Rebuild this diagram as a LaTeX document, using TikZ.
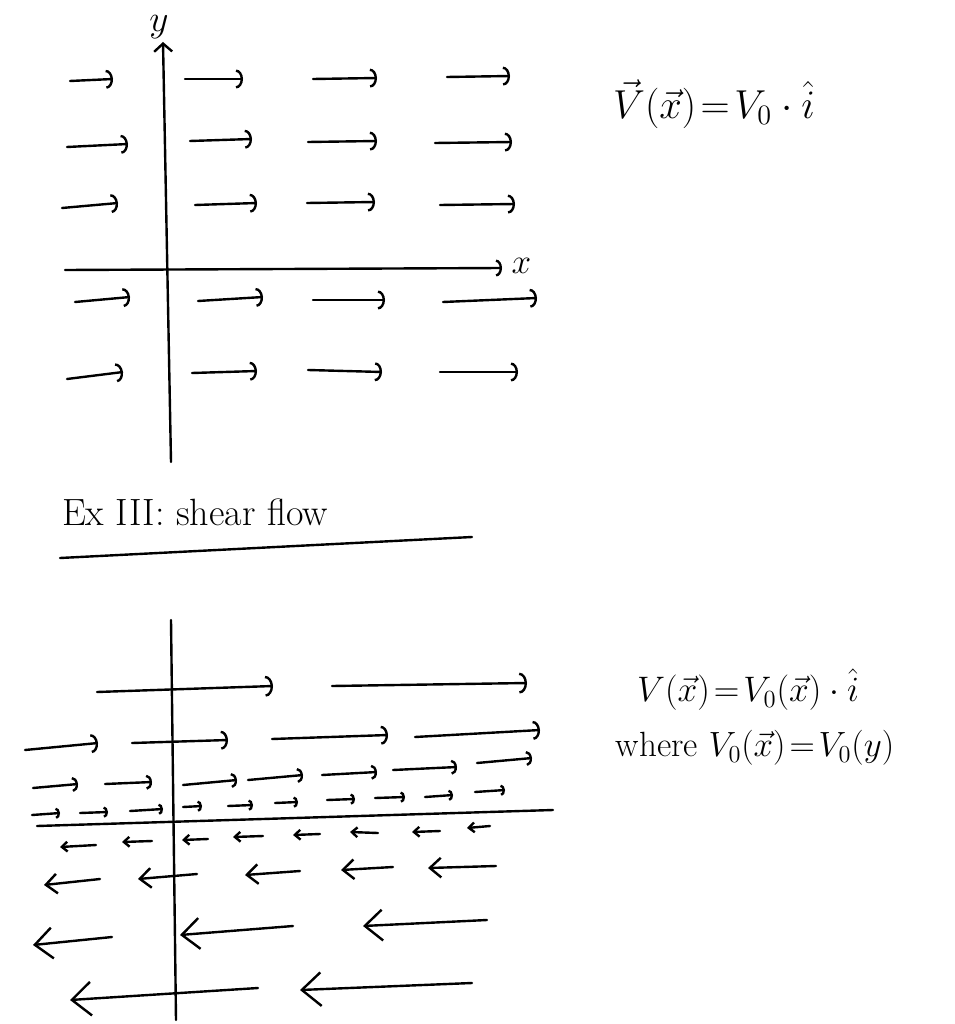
\documentclass[tikz,border=0pt]{standalone}
\usepackage{graphicx}
\usepackage{amsmath}
\usetikzlibrary{arrows.meta}

\begin{document}
\begin{tikzpicture}[x=1pt, y=-1pt, line cap=round, line join=round,
    ink/.style={black, line width=2.4pt},
    rightvec/.style={ink, -{Arc Barb[length=7pt, width=19pt, scale=#1]}},
    rightvec/.default=1,
    leftvec/.style={ink, -{Straight Barb[length=8pt, width=14pt, scale=#1]}},
    leftvec/.default=1]
\useasboundingbox (0,0) rectangle (954,1024);

% uniform flow
\draw[ink, -{Straight Barb[length=8pt, width=18pt]}] (171,462) -- (163,42);
\node (ylabel) at (159,27) {\scalebox{1.8}{\huge $y$}};
\draw[ink, -{Arc Barb[length=6pt, width=17pt]}] (65,270) -- (502,268);
\node[anchor=west] (xlabel) at (508,266) {\scalebox{1.7}{\huge $x$}};

\draw[rightvec] (70,81) -- (113,79);
\draw[rightvec] (185,79) -- (243,79);
\draw[rightvec] (313,79) -- (377,78);
\draw[rightvec] (447,77) -- (510,76);
\draw[rightvec] (67,147) -- (128,144);
\draw[rightvec] (190,141) -- (252,139);
\draw[rightvec] (308,142) -- (377,141);
\draw[rightvec] (435,143) -- (512,142);
\draw[rightvec] (62,208) -- (118,203);
\draw[rightvec] (195,205) -- (257,203);
\draw[rightvec] (307,203) -- (375,202);
\draw[rightvec] (440,205) -- (515,204);
\draw[rightvec] (75,302) -- (130,297);
\draw[rightvec] (198,301) -- (263,297);
\draw[rightvec] (313,300) -- (385,300);
\draw[rightvec] (443,302) -- (537,298);
\draw[rightvec] (67,379) -- (123,372);
\draw[rightvec] (192,373) -- (257,371);
\draw[rightvec] (308,370) -- (382,372);
\draw[rightvec] (440,372) -- (518,372);

\node (fieldeq) at (714,104)
    {\scalebox{1.95}{\huge $\vec{V}(\vec{x})\!=\!V_0\cdot\hat{i}$}};

% title
\node[font=\fontsize{38}{42}\selectfont] (title) at (195,512) {Ex III: shear flow};
\draw[ink] (60,558) -- (472,537);

% shear flow
\draw[ink] (171,620) -- (176,1020);
\draw[ink] (37,826) -- (553,810);

\draw[rightvec=1.1] (97,692) -- (273,686);
\draw[rightvec=1.1] (332,686) -- (527,683);
\draw[rightvec] (25,750) -- (98,743);
\draw[rightvec] (132,743) -- (228,740);
\draw[rightvec] (272,739) -- (388,735);
\draw[rightvec] (415,737) -- (540,730);
\draw[rightvec=0.8] (33,788) -- (78,784);
\draw[rightvec=0.8] (105,784) -- (152,782);
\draw[rightvec=0.8] (183,785) -- (237,780);
\draw[rightvec=0.8] (248,780) -- (303,775);
\draw[rightvec=0.8] (322,775) -- (377,772);
\draw[rightvec=0.8] (393,770) -- (457,767);
\draw[rightvec=0.8] (477,763) -- (532,758);
\draw[rightvec=0.6] (32,815) -- (60,813);
\draw[rightvec=0.6] (80,813) -- (108,812);
\draw[rightvec=0.6] (130,811) -- (163,809);
\draw[rightvec=0.6] (183,807) -- (202,806);
\draw[rightvec=0.6] (228,806) -- (253,805);
\draw[rightvec=0.6] (275,803) -- (298,802);
\draw[rightvec=0.6] (327,800) -- (355,799);
\draw[rightvec=0.6] (375,798) -- (405,797);
\draw[rightvec=0.6] (425,797) -- (453,795);
\draw[rightvec=0.6] (475,792) -- (505,790);

\draw[leftvec=0.7] (96,845) -- (60,847);
\draw[leftvec=0.7] (152,841) -- (122,842);
\draw[leftvec=0.7] (208,839) -- (182,840);
\draw[leftvec=0.7] (263,836) -- (233,837);
\draw[leftvec=0.7] (320,834) -- (293,835);
\draw[leftvec=0.7] (378,833) -- (350,832);
\draw[leftvec=0.7] (440,831) -- (412,832);
\draw[leftvec=0.7] (490,826) -- (467,828);
\draw[leftvec=1.4] (100,879) -- (44,885);
\draw[leftvec=1.4] (197,874) -- (138,879);
\draw[leftvec=1.4] (300,871) -- (245,875);
\draw[leftvec=1.4] (393,867) -- (341,870);
\draw[leftvec=1.4] (496,866) -- (428,868);
\draw[leftvec=2.2] (112,937) -- (33,945);
\draw[leftvec=2.2] (293,926) -- (180,935);
\draw[leftvec=2.2] (487,920) -- (363,926);
\draw[leftvec=2.4] (258,988) -- (70,1000);
\draw[leftvec=2.4] (472,983) -- (300,990);

\node (sheareq) at (748,690)
    {\scalebox{1.71}{\huge $V(\vec{x})\!=\!V_0(\vec{x})\cdot\hat{i}$}};
\node (wherenote) at (755,748)
    {\scalebox{1.69}{\huge where $V_0(\vec{x})\!=\!V_0(y)$}};

\end{tikzpicture}
\end{document}
